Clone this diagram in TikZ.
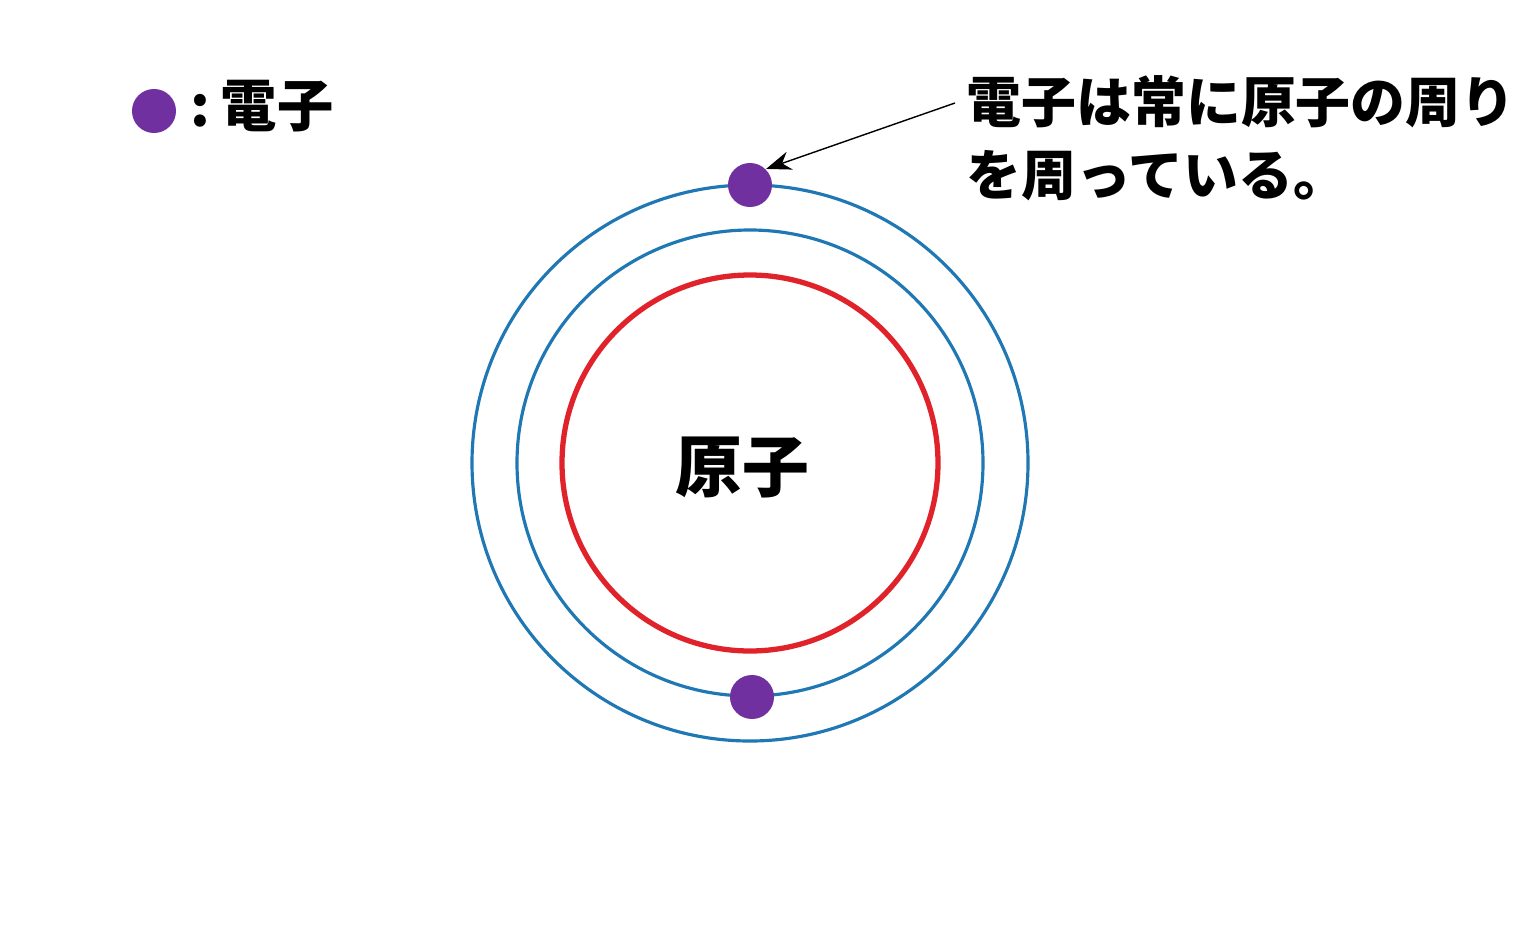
\documentclass[tikz,border=0pt]{standalone}
\usepackage{fontspec}
\newfontfamily\cjk{Noto Sans CJK JP}
\usetikzlibrary{arrows.meta, positioning}
\definecolor{elecpurple}{HTML}{7030A0}
\definecolor{orbitblue}{HTML}{1F77B4}
\definecolor{nucred}{HTML}{E0232B}
\tikzset{
    electron/.style={circle, fill=elecpurple, inner sep=0pt, minimum size=0.44cm},
    orbit/.style={draw=orbitblue, line width=0.9pt},
    jptext/.style={font=\cjk\bfseries, inner sep=0pt},
}
\begin{document}
\begin{tikzpicture}[x=0.01cm, y=-0.01cm]
    \useasboundingbox (0,0) rectangle (1536,939);
    % orbits and atom
    \coordinate (center) at (750,463);
    \draw[orbit] (center) circle[radius=278];
    \draw[orbit] (center) circle[radius=233];
    \draw[draw=nucred, line width=1.5pt] (center) circle[radius=188];
    \node[jptext, font=\cjk\bfseries\fontsize{19pt}{19pt}\selectfont] (atom) at (742,468) {原子};

    % electrons
    \node[electron] (etop) at (750,185) {};
    \node[electron] (ebottom) at (752,697) {};

    % legend
    \node[electron] (legdot) at (154,111) {};
    \node[jptext, font=\cjk\bfseries\fontsize{16pt}{16pt}\selectfont, anchor=west] (legtext) at (190,106) {:\hspace{3pt}電子};

    % annotation
    \node[jptext, font=\cjk\bfseries\fontsize{15.6pt}{20.7pt}\selectfont, anchor=north west, align=left] (note) at (966,75)
        {電子は常に原子の周り\\を周っている。};
    \coordinate (notestart) at (955,103);
    \draw[-{Stealth[length=2.5mm]}, thin] (notestart) -- (etop.north east);
\end{tikzpicture}
\end{document}
